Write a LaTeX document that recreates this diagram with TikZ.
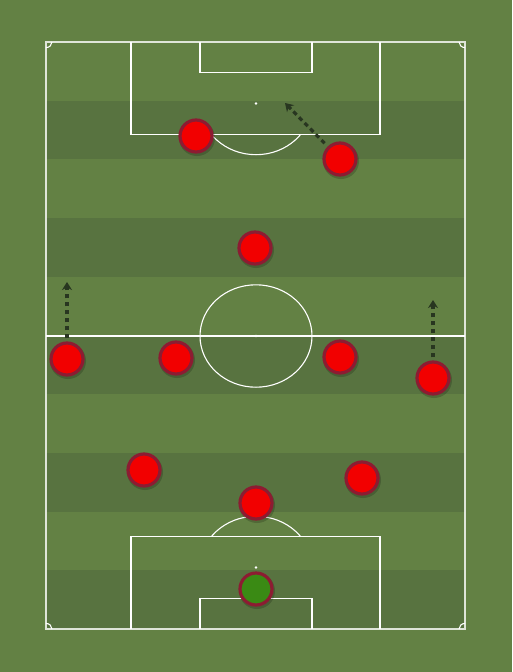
\documentclass[tikz,border=0pt]{standalone}
\usetikzlibrary{arrows.meta,calc}
\definecolor{grasslight}{RGB}{99,129,68}
\definecolor{grassdark}{RGB}{88,115,64}
\definecolor{ringred}{RGB}{140,28,50}
\definecolor{fillred}{RGB}{242,0,0}
\definecolor{keepgreen}{RGB}{58,138,20}
\definecolor{arrowdark}{RGB}{40,54,32}
\begin{document}
\begin{tikzpicture}[x=1pt,y=-1pt,
  pitchline/.style={white,line width=1.1pt},
  boundline/.style={white,opacity=0.8,line width=1.4pt},
  player/.style={circle,draw=ringred,fill=fillred,line width=3.2pt,minimum size=32pt,inner sep=0pt},
  keeper/.style={player,fill=keepgreen},
  runarrow/.style={arrowdark,line width=3.2pt,dash pattern=on 4.5pt off 3.5pt,-{Stealth[length=8pt,width=10pt]}}]
\useasboundingbox (0,0) rectangle (512,672);
\fill[grasslight] (0,0) rectangle (512,672);
% stripes
\foreach \i in {1,3,5,7,9}{
  \fill[grassdark] (46,{42+\i*58.7}) rectangle (465,{42+(\i+1)*58.7});
}
% top
\draw[pitchline] (131,42) -- (131,134.5) -- (380,134.5) -- (380,42);
\draw[pitchline] (200,42) -- (200,72.7) -- (312,72.7) -- (312,42);
\fill[white] (256,103.5) circle (1.3);
\begin{scope}
\clip (100,134.5) rectangle (420,200);
\draw[pitchline] (256,103.5) ellipse (56 and 51.2);
\end{scope}
% bottom
\draw[pitchline] (131,629) -- (131,536.5) -- (380,536.5) -- (380,629);
\draw[pitchline] (200,629) -- (200,598.3) -- (312,598.3) -- (312,629);
\fill[white] (256,567.5) circle (1.3);
\begin{scope}
\clip (100,536.5) rectangle (420,450);
\draw[pitchline] (256,567.5) ellipse (56 and 51.2);
\end{scope}
% centre
\draw[pitchline] (46,336) -- (465,336);
\draw[pitchline] (256,336) ellipse (56 and 51.2);
\fill[white] (256,336) circle (1.3);
% corner arcs
\draw[pitchline] (52,42) arc[start angle=0,end angle=90,x radius=6,y radius=5.6];
\draw[pitchline] (459,42) arc[start angle=180,end angle=90,x radius=6,y radius=5.6];
\draw[pitchline] (52,629) arc[start angle=0,end angle=-90,x radius=6,y radius=5.6];
\draw[pitchline] (459,629) arc[start angle=180,end angle=270,x radius=6,y radius=5.6];
% boundary
\draw[boundline] (46,42) rectangle (465,629);
% shadows
\foreach \px/\py in {196/136,340/159,255/248,67/359,176/358,340/357,433/378,144/470,362/478,256/503,256/589}{
  \fill[black,opacity=0.18] (\px+1,\py+2) circle (18);
}
% players
\node[player] (p1) at (196,136) {};
\node[player] (p2) at (340,159) {};
\node[player] (p3) at (255,248) {};
\node[player] (p4) at (67,359) {};
\node[player] (p5) at (176,358) {};
\node[player] (p6) at (340,357) {};
\node[player] (p7) at (433,378) {};
\node[player] (p8) at (144,470) {};
\node[player] (p9) at (362,478) {};
\node[player] (p10) at (256,503) {};
\node[keeper] (gk) at (256,589) {};
% runs
\coordinate (t4) at (67,282);
\coordinate (t7) at (433,300);
\coordinate (t2) at (285,103);
\draw[runarrow] ($(p4.north)+(0,-3)$) -- (t4);
\draw[runarrow] ($(p7.north)+(0,-3)$) -- (t7);
\draw[runarrow] ($(p2)!22pt!(t2)$) -- (t2);
\end{tikzpicture}
\end{document}
